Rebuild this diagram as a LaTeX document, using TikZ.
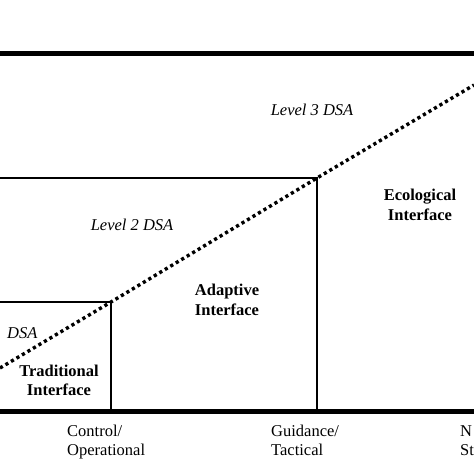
\documentclass[tikz,border=0pt]{standalone}
\usepackage{fontspec}
\setmainfont{Liberation Serif}
\begin{document}
\begin{tikzpicture}[x=1pt,y=-1pt,
  frameline/.style={line width=4.5pt},
  boxline/.style={line width=2.8pt},
  dsaline/.style={line width=3.4pt,dash pattern=on 3.2pt off 3.2pt},
  lvl/.style={font=\fontsize{16.5}{19}\selectfont\itshape,inner sep=0pt},
  iface/.style={font=\fontsize{16.5}{19.5}\selectfont\bfseries,align=center,inner sep=0pt},
  axlab/.style={font=\fontsize{16.5}{19}\selectfont,align=left,anchor=north west,inner sep=0pt}]
\useasboundingbox (0,0) rectangle (474,474);
\fill[white] (0,0) rectangle (474,474);
% frame lines
\coordinate (tl) at (-5,53.5);
\coordinate (tr) at (480,53.5);
\coordinate (bl) at (-5,411.5);
\coordinate (br) at (480,411.5);
% boxes
\coordinate (bigL) at (-5,178);
\coordinate (bigC) at (317,178);
\coordinate (bigB) at (317,411);
\coordinate (smL) at (-5,302);
\coordinate (smC) at (111,302);
\coordinate (smB) at (111,411);
\draw[boxline] (bigL) -- (bigC) -- (bigB);
\draw[boxline] (smL) -- (smC) -- (smB);
\draw[frameline] (tl) -- (tr);
\draw[frameline] (bl) -- (br);
% dotted DSA line
\coordinate (d0) at (0,368);
\coordinate (d3) at (474,85);
\draw[dsaline] (d0) -- (smC) -- (bigC) -- (d3);
% labels
\node[lvl] (l3) at (312,110) {Level 3 DSA};
\node[lvl] (l2) at (132,225) {Level 2 DSA};
\node[lvl,anchor=west] (l1) at (7,333) {DSA};
\node[iface] (trad) at (59,380.5) {Traditional\\Interface};
\node[iface] (adap) at (227,300) {Adaptive\\Interface};
\node[iface] (eco) at (420,205) {Ecological\\Interface};
\node[axlab] (ctl) at (67,425) {Control/\\Operational};
\node[axlab] (gui) at (271,425) {Guidance/\\Tactical};
\node[axlab] (nav) at (460,425) {N\\St};
\end{tikzpicture}
\end{document}
